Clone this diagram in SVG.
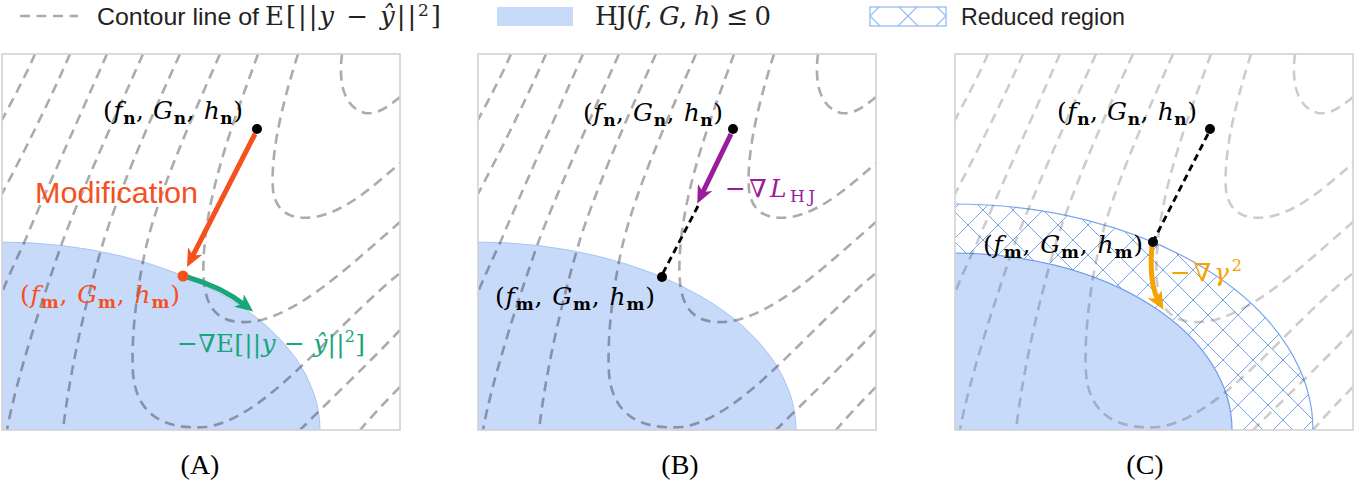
<svg xmlns="http://www.w3.org/2000/svg" xmlns:xlink="http://www.w3.org/1999/xlink" width="1356" height="486" viewBox="0 0 1356 486">
<style>
.frame{fill:none;stroke:#d2d2d2;stroke-width:1.6}
.ct{fill:none;stroke:#000;stroke-opacity:.33;stroke-width:2.6;stroke-dasharray:10 6.5}
.ctl{stroke-opacity:.2}
.hj{fill:#c8dafa;stroke:#a9c5f5;stroke-width:1}
.hjc{fill:#c8dafa;stroke:#6d9eeb;stroke-width:1.2}
.band{fill:url(#hatch);stroke:#7aa6ee;stroke-width:1.2}
.sans{font-family:"Liberation Sans",Arial,sans-serif}
.math{font-family:"DejaVu Serif","Liberation Serif",serif}
.cap{font-family:"Liberation Serif",serif}
.lab{font-size:25px}
.it{font-style:italic}
.sub{font-size:17px;font-weight:bold}
.dot{fill:#000}
.dash{fill:none;stroke:#000;stroke-width:2.8;stroke-dasharray:7 4.5}
.arr{fill:none;stroke-width:5}
</style>
<defs>
<clipPath id="clipPanel"><rect x="2" y="54" width="398" height="376"/></clipPath>
<pattern id="hatch" patternUnits="userSpaceOnUse" width="30" height="30"><path d="M-2,-2 L32,32 M32,-2 L-2,32" stroke="#7aa6ee" stroke-width="1" fill="none"/></pattern>
<pattern id="hatchLegend" patternUnits="userSpaceOnUse" x="889" y="-3" width="38" height="38"><path d="M0,0 L38,38 M38,0 L0,38" stroke="#8fb4f0" stroke-width="1.2" fill="none"/></pattern>
<marker id="ah-orange" markerUnits="userSpaceOnUse" markerWidth="20" markerHeight="16" refX="9" refY="8" orient="auto" viewBox="0 0 20 16"><path d="M0,0 L18,8 L0,16 L5,8 z" fill="#f4511e"/></marker>
<marker id="ah-green" markerUnits="userSpaceOnUse" markerWidth="20" markerHeight="16" refX="9" refY="8" orient="auto" viewBox="0 0 20 16"><path d="M0,0 L18,8 L0,16 L5,8 z" fill="#19a67a"/></marker>
<marker id="ah-purple" markerUnits="userSpaceOnUse" markerWidth="20" markerHeight="16" refX="9" refY="8" orient="auto" viewBox="0 0 20 16"><path d="M0,0 L18,8 L0,16 L5,8 z" fill="#9a1b9b"/></marker>
<marker id="ah-amber" markerUnits="userSpaceOnUse" markerWidth="20" markerHeight="16" refX="9" refY="8" orient="auto" viewBox="0 0 20 16"><path d="M0,0 L18,8 L0,16 L5,8 z" fill="#f5a300"/></marker>
<g id="contours">
<path d="M35,54 C26,75 14,97 2,120"/>
<path d="M70,54 C50,100 26,148 2,194"/>
<path d="M107,54 C78,120 42,200 24,243 C15,262 8,278 2,292"/>
<path d="M143,54 C110,128 78,200 62,243 C42,300 16,380 7,430"/>
<path d="M180,54 C146,128 116,200 103,243 C86,300 70,370 63,430"/>
<path d="M220,54 C190,122 160,190 147,243 C136,290 131,340 133,373 C136,415 165,430 205,427 C265,420 330,330 400,273"/>
<path d="M258,54 C238,110 212,175 205,240 C200,290 205,320 240,322 C290,325 350,265 400,222"/>
<path d="M298,54 C285,95 270,150 273,190 C276,215 295,220 315,217 C345,212 375,185 400,163"/>
<path d="M342,54 C338,85 345,108 365,113 C380,115 392,103 400,97"/>
<path d="M400,330 C370,362 332,398 300,430"/>
<path d="M400,387 C385,402 372,416 360,430"/>
</g>
</defs>
<rect width="1356" height="486" fill="#fff"/>

<g id="legend">
<line x1="20" y1="16" x2="78" y2="16" class="ct" stroke-dasharray="12 8"/>
<text class="sans" x="97" y="25" font-size="24" fill="#222" textLength="162" lengthAdjust="spacingAndGlyphs">Contour line of</text>
<text class="math" x="265" y="25" font-size="26" fill="#222" textLength="176" lengthAdjust="spacing">E[||<tspan class="it">y</tspan> − <tspan class="it">ŷ</tspan>||<tspan font-size="17" dy="-9">2</tspan><tspan dy="9">]</tspan></text>
<rect x="497" y="7" width="76" height="19" fill="#c8dafa"/>
<text class="math" x="595" y="25" font-size="26" fill="#222" textLength="176" lengthAdjust="spacing">HJ(<tspan class="it">f</tspan>, <tspan class="it">G</tspan>, <tspan class="it">h</tspan>) ≤ 0</text>
<rect x="870" y="7" width="76" height="19" fill="url(#hatchLegend)" stroke="#8fb4f0" stroke-width="1.2"/>
<text class="sans" x="961" y="25" font-size="24" fill="#222" textLength="164" lengthAdjust="spacingAndGlyphs">Reduced region</text>
</g>

<g id="panel-a">
<g clip-path="url(#clipPanel)">
<ellipse class="hj" cx="0" cy="430" rx="320" ry="188"/>
<use xlink:href="#contours" class="ct"/>
</g>
<rect class="frame" x="2" y="54" width="398" height="376"/>
<text class="cap" x="200" y="474" font-size="28" text-anchor="middle" fill="#000">(A)</text>
</g>

<g id="panel-b" transform="translate(476,0)">
<g clip-path="url(#clipPanel)">
<ellipse class="hj" cx="0" cy="430" rx="320" ry="188"/>
<use xlink:href="#contours" class="ct"/>
</g>
<rect class="frame" x="2" y="54" width="398" height="376"/>
<text class="cap" x="204" y="474" font-size="28" text-anchor="middle" fill="#000">(B)</text>
</g>

<g id="panel-c" transform="translate(953,0)">
<g clip-path="url(#clipPanel)">
<ellipse class="band" cx="0" cy="430" rx="360" ry="226"/>
<ellipse class="hjc" cx="0" cy="430" rx="279" ry="177"/>
<use xlink:href="#contours" class="ct ctl"/>
</g>
<rect class="frame" x="2" y="54" width="398" height="376"/>
<text class="cap" x="192" y="474" font-size="28" text-anchor="middle" fill="#000">(C)</text>
</g>

<g id="connectors">
<path class="arr" stroke="#f4511e" d="M255,134 L191.1,259" marker-end="url(#ah-orange)"/>
<path class="arr" stroke="#19a67a" d="M187,277 Q222,287 246,306" marker-end="url(#ah-green)"/>
<path class="dash" d="M698,206 L662,275"/>
<path class="arr" stroke="#9a1b9b" d="M731,134 L701.2,195.5" marker-end="url(#ah-purple)"/>
<path class="dash" d="M1208,134 L1154,240"/>
<path class="arr" stroke="#f5a300" d="M1152,246 C1150,268 1151,288 1159,302" marker-end="url(#ah-amber)"/>
</g>

<g id="label-modification">
<text class="sans" x="35" y="203" font-size="30" fill="#f4511e" textLength="163" lengthAdjust="spacingAndGlyphs">Modification</text>
</g>

<g id="node-a-n">
<circle class="dot" cx="257" cy="129" r="5"/>
<text class="math lab" x="103" y="119" textLength="140" lengthAdjust="spacing">(<tspan class="it">f</tspan><tspan class="sub" dy="5">n</tspan><tspan dy="-5">, </tspan><tspan class="it">G</tspan><tspan class="sub" dy="5">n</tspan><tspan dy="-5">, </tspan><tspan class="it">h</tspan><tspan class="sub" dy="5">n</tspan><tspan dy="-5">)</tspan></text>
</g>
<g id="node-a-m">
<circle cx="183" cy="276" r="5.5" fill="#f4511e"/>
<text class="math lab" x="20" y="303" fill="#f4511e" textLength="160" lengthAdjust="spacing">(<tspan class="it">f</tspan><tspan class="sub" dy="5">m</tspan><tspan dy="-5">, </tspan><tspan class="it">G</tspan><tspan class="sub" dy="5">m</tspan><tspan dy="-5">, </tspan><tspan class="it">h</tspan><tspan class="sub" dy="5">m</tspan><tspan dy="-5">)</tspan></text>
</g>
<g id="label-grad-e">
<text class="math lab" x="177" y="352" fill="#19a67a" textLength="188" lengthAdjust="spacing">−∇E[||<tspan class="it">y</tspan> − <tspan class="it">ŷ</tspan>||<tspan font-size="16" dy="-10">2</tspan><tspan dy="10">]</tspan></text>
</g>

<g id="node-b-n">
<circle class="dot" cx="733" cy="129" r="5"/>
<text class="math lab" x="583" y="121" textLength="140" lengthAdjust="spacing">(<tspan class="it">f</tspan><tspan class="sub" dy="5">n</tspan><tspan dy="-5">, </tspan><tspan class="it">G</tspan><tspan class="sub" dy="5">n</tspan><tspan dy="-5">, </tspan><tspan class="it">h</tspan><tspan class="sub" dy="5">n</tspan><tspan dy="-5">)</tspan></text>
</g>
<g id="node-b-m">
<circle class="dot" cx="662" cy="277" r="5"/>
<text class="math lab" x="495" y="305" textLength="160" lengthAdjust="spacing">(<tspan class="it">f</tspan><tspan class="sub" dy="5">m</tspan><tspan dy="-5">, </tspan><tspan class="it">G</tspan><tspan class="sub" dy="5">m</tspan><tspan dy="-5">, </tspan><tspan class="it">h</tspan><tspan class="sub" dy="5">m</tspan><tspan dy="-5">)</tspan></text>
</g>
<g id="label-grad-l">
<text class="math lab" x="725" y="197" fill="#9a1b9b" textLength="90" lengthAdjust="spacing">−∇<tspan class="it">L</tspan><tspan font-size="17" dy="5">HJ</tspan></text>
</g>

<g id="node-c-n">
<circle class="dot" cx="1210" cy="129" r="5"/>
<text class="math lab" x="1057" y="120" textLength="140" lengthAdjust="spacing">(<tspan class="it">f</tspan><tspan class="sub" dy="5">n</tspan><tspan dy="-5">, </tspan><tspan class="it">G</tspan><tspan class="sub" dy="5">n</tspan><tspan dy="-5">, </tspan><tspan class="it">h</tspan><tspan class="sub" dy="5">n</tspan><tspan dy="-5">)</tspan></text>
</g>
<g id="node-c-m">
<circle class="dot" cx="1153" cy="242" r="5"/>
<text class="math lab" x="983" y="253" textLength="160" lengthAdjust="spacing">(<tspan class="it">f</tspan><tspan class="sub" dy="5">m</tspan><tspan dy="-5">, </tspan><tspan class="it">G</tspan><tspan class="sub" dy="5">m</tspan><tspan dy="-5">, </tspan><tspan class="it">h</tspan><tspan class="sub" dy="5">m</tspan><tspan dy="-5">)</tspan></text>
</g>
<g id="label-grad-g">
<text class="math lab" x="1170" y="281" fill="#f5a300" textLength="72" lengthAdjust="spacing">−∇<tspan class="it">γ</tspan><tspan font-size="16" dy="-10">2</tspan></text>
</g>
</svg>
